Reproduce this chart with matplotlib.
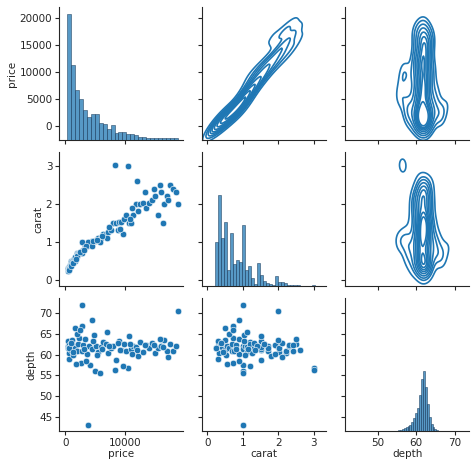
import matplotlib
matplotlib.use('Agg')
import matplotlib.pyplot as plt
import seaborn as sns
import numpy as np

sns.set_style('ticks')
plt.rcParams['font.family'] = ['DejaVu Sans']

# sample diamonds (price, carat, depth)
price = [400, 450, 520, 600, 700, 800, 650, 900, 1000, 1100, 1300, 1500, 1700, 1600, 1900,
         2100, 2300, 2600, 2800, 3000, 3300, 3600, 2800, 3900, 4200, 4500, 4800, 5200, 5500,
         6000, 6400, 5000, 6800, 7200, 7600, 8000, 8500, 9000, 9400, 9800, 10200, 10600, 11000,
         11400, 11800, 12200, 12600, 13000, 13500, 14000, 14500, 15000, 15500, 16000, 16500,
         17000, 17500, 18000, 18500, 18800, 10500, 8300, 12000, 3800, 2800, 4400, 5800, 7000,
         9600, 15800, 17200, 13300, 11200, 600, 950, 1250, 2000, 3400, 6200, 8800, 16300, 14800,
         1800, 2400, 3100, 4600, 5400, 7400, 9200, 10900]
carat = [0.23, 0.3, 0.31, 0.32, 0.35, 0.4, 0.3, 0.42, 0.5, 0.5, 0.52, 0.55, 0.6, 0.5, 0.7,
         0.7, 0.71, 0.72, 0.75, 0.8, 0.9, 0.9, 0.71, 1.0, 1.0, 1.01, 1.02, 1.05, 1.1,
         1.1, 1.2, 1.01, 1.21, 1.25, 1.3, 1.5, 1.5, 1.51, 1.52, 1.6, 1.7, 1.5, 1.5,
         1.7, 2.0, 1.8, 2.0, 2.01, 1.9, 2.02, 2.1, 2.2, 1.7, 2.3, 2.0, 2.2, 2.5, 2.4, 2.3,
         2.0, 3.0, 3.01, 2.6, 1.0, 1.0, 0.9, 1.0, 1.1, 1.2, 2.5, 2.1, 2.3, 1.9, 0.25, 0.38,
         0.45, 0.62, 0.9, 1.15, 1.3, 1.5, 2.4, 0.55, 0.73, 0.8, 1.02, 1.05, 1.4, 1.35, 1.6]
depth = [61.5, 62.0, 63.2, 60.5, 62.4, 61.8, 59.0, 62.8, 61.2, 63.5, 60.0, 62.2, 61.7, 66.5, 60.8,
         62.5, 64.0, 58.0, 61.0, 62.3, 63.8, 60.2, 67.0, 62.0, 57.5, 61.4, 64.8, 62.1, 60.7,
         61.9, 63.0, 56.0, 62.6, 60.4, 61.6, 62.0, 58.8, 63.3, 61.1, 62.7, 60.9, 64.5, 61.3,
         62.2, 61.8, 59.6, 63.1, 60.6, 62.4, 61.5, 62.9, 60.3, 61.7, 62.1, 63.6, 61.0, 62.5,
         60.8, 62.0, 70.6, 56.8, 56.2, 61.2, 43.0, 72.0, 68.5, 55.5, 65.5, 57.2, 63.8, 59.5,
         62.3, 60.1, 61.6, 62.9, 60.6, 65.0, 58.5, 61.4, 62.8, 61.9, 62.4, 57.8, 66.0, 61.3,
         63.4, 59.8, 62.2, 61.1, 62.6]

# diagonal histogram counts
price_edges = np.linspace(330, 18820, 29)
price_counts = [23400, 13900, 9300, 7700, 5600, 4300, 4900, 4900, 3200, 3000, 2100, 2900,
                1400, 1500, 1500, 1200, 1100, 1000, 700, 700, 500, 500, 500, 500, 450, 450, 450, 450]
carat_edges = np.round(np.arange(0.2, 3.05, 0.0855), 4)
carat_counts = [130, 268, 140, 187, 47, 155, 65, 75, 70, 180, 47, 57, 22, 5, 67, 32, 15, 8,
                4, 2, 30, 12, 12, 7, 2, 1, 1, 2, 0, 0, 0, 0, 1]
depth_edges = np.arange(54.75, 67.3, 0.5)
depth_counts = [1, 2, 3, 4, 6, 8, 10, 14, 20, 28, 40, 50, 78, 112, 130, 96, 58, 30, 15,
                8, 4, 2, 1, 1, 1]
# share of axis height taken by the tallest bar
peak_share = {'price': 0.95, 'carat': 0.68, 'depth': 0.45}

names = ['price', 'carat', 'depth']
data = {'price': np.array(price), 'carat': np.array(carat), 'depth': np.array(depth)}
hists = {'price': (price_edges, price_counts), 'carat': (carat_edges, carat_counts),
         'depth': (depth_edges, depth_counts)}
lims = {'price': (-1000, 19800), 'carat': (-0.15, 3.35), 'depth': (41.5, 73.8)}
ylims = {'price': (-2700, 22000), 'carat': (-0.15, 3.35), 'depth': (41.5, 73.8)}
ticks = {'price': [0, 5000, 10000, 15000, 20000], 'carat': [0, 1, 2, 3],
         'depth': [45, 50, 55, 60, 65, 70]}
xticks = {'price': [0, 10000], 'carat': [0, 1, 2, 3], 'depth': [50, 60, 70]}
blue = '#1f77b4'

fig, axes = plt.subplots(3, 3, figsize=(4.74, 4.66), dpi=100)
fig.subplots_adjust(left=0.125, right=0.99, bottom=0.075, top=0.985, wspace=0.15, hspace=0.09)

for i, yv in enumerate(names):
    for j, xv in enumerate(names):
        ax = axes[i, j]
        if i == j:
            tw = ax.twinx()
            e, c = hists[xv]
            tw.bar(e[:-1], c[:len(e) - 1], width=np.diff(e), align='edge',
                   color=blue, alpha=0.75, edgecolor='#1f3f5f', linewidth=0.5)
            tw.set_ylim(0, max(c) / peak_share[xv])
            tw.set_yticks([])
            for s in tw.spines.values():
                s.set_visible(False)
        elif i > j:
            ax.scatter(data[xv], data[yv], s=22, color=blue, edgecolor='white', linewidth=0.4)
        else:
            sns.kdeplot(x=data[xv], y=data[yv], ax=ax, color=blue, linewidths=1.2,
                        levels=10, thresh=0.12, bw_adjust=0.7)
        ax.set_xlabel('')
        ax.set_ylabel('')
        ax.set_xticks(xticks[xv])
        ax.set_yticks(ticks[yv])
        ax.set_xlim(lims[xv])
        ax.set_ylim(ylims[yv])
        ax.tick_params(labelsize=7.5, length=3, pad=2)
        if j > 0:
            ax.tick_params(labelleft=False)
        if i < 2:
            ax.tick_params(labelbottom=False)
        if j == 0:
            ax.set_ylabel(yv, fontsize=7.5, labelpad=2)
        if i == 2:
            ax.set_xlabel(xv, fontsize=7.5, labelpad=1)
        sns.despine(ax=ax)

plt.savefig('out.png', dpi=100, facecolor='white')
